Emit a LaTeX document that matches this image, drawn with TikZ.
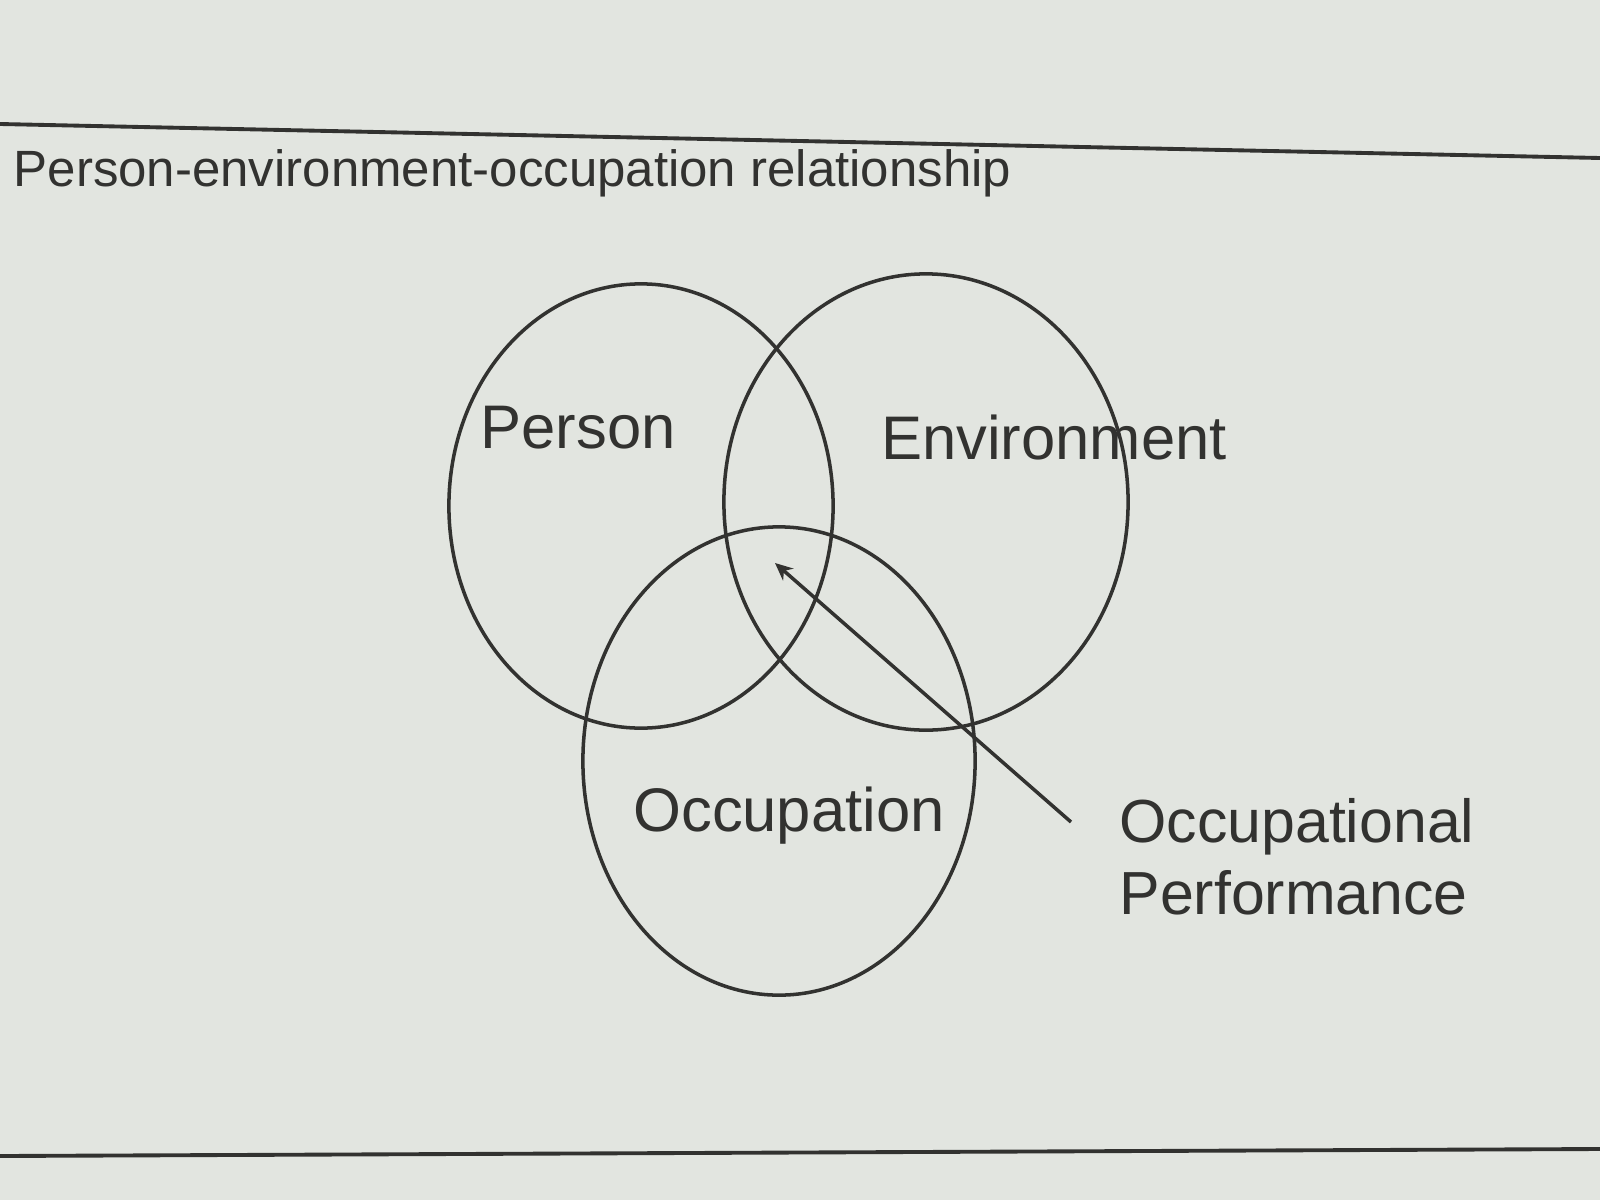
\documentclass[tikz,border=0pt]{standalone}
\usepackage{fontspec}
\setmainfont{Liberation Sans}
\usetikzlibrary{shapes.geometric}
\usetikzlibrary{arrows.meta}
\definecolor{paper}{RGB}{226,229,224}
\definecolor{ink}{RGB}{50,50,48}
\tikzset{
  set/.style= {draw=ink, ellipse, line width=1pt, inner sep=0},
  word/.style= {text=ink, font=\fontsize{17.5}{20.5}\selectfont},
  rule/.style= {draw=ink, line width=1.1pt},
}

\begin{document}
\begin{tikzpicture}[x=0.01cm, y=-0.01cm]
  \fill [paper] (0,0) rectangle (1600,1200);
  \useasboundingbox (0,0) rectangle (1600,1200);

  % page rules
  \coordinate (tl) at (0,124);
  \coordinate (tr) at (1600,158);
  \coordinate (bl) at (0,1156);
  \coordinate (br) at (1600,1149);
  \draw [rule] (tl) -- (tr);
  \draw [rule] (bl) -- (br);

  \node [text=ink, anchor=base west, inner sep=0, font=\fontsize{14.5}{17}\selectfont] (title) at (13,186)
    {Person-environment-occupation relationship};

  % the three sets
  \node [set, minimum width=3.84cm, minimum height=4.44cm] (person) at (641,506) {};
  \node [set, minimum width=4.04cm, minimum height=4.56cm] (envir) at (926,502) {};
  \node [set, minimum width=3.92cm, minimum height=4.68cm] (occup) at (779,761) {};

  \node [word] (lperson) at (578,428) {Person};
  \node [word] (lenvir) at (1054,437) {Environment};
  \node [word] (loccup) at (789,816) {Occupation};
  \node [word, anchor=west, align=left, font=\fontsize{17.3}{20.5}\selectfont] (perf) at (1107,857) {Occupational\\Performance};

  \coordinate (tail) at (1071,822);
  \coordinate (tip) at (775,563);
  \draw [draw=ink, line width=1pt, -{Stealth[length=5pt, width=4.5pt]}] (tail) -- (tip);
\end{tikzpicture}
\end{document}
